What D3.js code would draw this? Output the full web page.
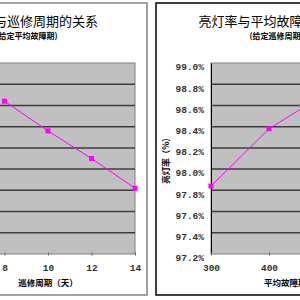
<!DOCTYPE html>
<html><head><meta charset="utf-8">
<script src="https://cdn.jsdelivr.net/npm/d3@7"></script>
<style>body{margin:0;background:#fff}svg{display:block}</style>
</head><body>
<svg id="c" width="300" height="300"></svg>
<script>
// ---- data ----
const cycleDays = [8, 10, 12, 14];
const rateByCycle = [98.64, 98.36, 98.10, 97.82];
const cycleTicks = [6, 8, 10, 12, 14];

const mtbf = [300, 400, 500, 600];
const rateByMtbf = [97.84, 98.38, 98.72, 98.92];
const mtbfTicks = [300, 400, 500, 600];

const rateTicks = [97.2, 97.4, 97.6, 97.8, 98.0, 98.2, 98.4, 98.6, 98.8, 99.0];

(function () {
const charts = [
  {title: "亮灯率与巡修周期的关系", sub: "(给定平均故障期)", xTitle: "巡修周期（天）", yTitle: "亮灯率（%）",
   xs: cycleDays, ys: rateByCycle, xTicks: cycleTicks, xDomain: [6, 14],
   frame: [-94, 147], frameColor: "#8a8a8a", plot: [-39, 135]},
  {title: "亮灯率与平均故障期的关系", sub: "(给定巡修周期)", xTitle: "平均故障期（天）", yTitle: "亮灯率（%）",
   xs: mtbf, ys: rateByMtbf, xTicks: mtbfTicks, xDomain: [300, 600],
   frame: [156, 397], frameColor: "#111", plot: [211, 385]}
];

const svg = d3.select("#c");
const pTop = 63, pBottom = 254;
const y = d3.scaleLinear().domain([97.2, 99.0]).range([pBottom, pTop]);
const mono = "'Liberation Mono','DejaVu Sans Mono',monospace";
const cjk = "'Noto Sans CJK SC','Noto Sans',sans-serif";

charts.forEach(c => {
  const g = svg.append("g");
  const x = d3.scaleLinear().domain(c.xDomain).range(c.plot);
  g.append("rect").attr("x", c.frame[0]).attr("y", 3)
    .attr("width", c.frame[1] - c.frame[0]).attr("height", 292)
    .attr("fill", "#fff").attr("stroke", c.frameColor).attr("stroke-width", 1.6);
  g.append("rect").attr("x", c.plot[0]).attr("y", pTop)
    .attr("width", c.plot[1] - c.plot[0]).attr("height", pBottom - pTop)
    .attr("fill", "#c0c0c0").attr("stroke", "#808080").attr("stroke-width", 1);
  g.selectAll(".grid").data(rateTicks.slice(1, -1)).join("line")
    .attr("x1", c.plot[0]).attr("x2", c.plot[1])
    .attr("y1", d => y(d)).attr("y2", d => y(d))
    .attr("stroke", "#3c3c3c").attr("stroke-width", 1.5);
  const ya = d3.axisLeft(y).tickValues(rateTicks).tickSize(0).tickPadding(7)
    .tickFormat(d => d3.format(".1f")(d) + "%");
  const yg = g.append("g").attr("transform", `translate(${c.plot[0]},0)`).call(ya);
  yg.select(".domain").attr("stroke", "#000");
  yg.selectAll("text").attr("font-family", mono).attr("font-weight", "bold")
    .attr("font-size", 9.5).attr("fill", "#333").attr("dy", "0.72em");
  const xa = d3.axisBottom(x).tickValues(c.xTicks).tickSize(3).tickPadding(9)
    .tickFormat(d3.format("d"));
  const xg = g.append("g").attr("transform", `translate(0,${pBottom - 1.5})`).call(xa);
  xg.select(".domain").remove();
  xg.selectAll(".tick line").attr("stroke", "#666");
  xg.selectAll("text").attr("font-family", mono).attr("font-weight", "bold")
    .attr("font-size", 9.5).attr("fill", "#333");
  const cx = (c.frame[0] + c.frame[1]) / 2;
  g.append("text").attr("x", cx).attr("y", 26).attr("text-anchor", "middle")
    .attr("font-family", cjk).attr("font-size", 13).attr("fill", "#000").text(c.title);
  g.append("text").attr("x", cx).attr("y", 39).attr("text-anchor", "middle")
    .attr("font-family", cjk).attr("font-size", 8).attr("font-weight", "bold")
    .attr("fill", "#000").text(c.sub);
  const pc = (c.plot[0] + c.plot[1]) / 2;
  g.append("text").attr("x", pc).attr("y", 286).attr("text-anchor", "middle")
    .attr("font-family", cjk).attr("font-size", 8.5).attr("font-weight", "bold")
    .attr("fill", "#000").text(c.xTitle);
  g.append("text").attr("transform", `translate(${c.plot[0] - 44},${(pTop + pBottom) / 2}) rotate(-90)`)
    .attr("text-anchor", "middle").attr("dominant-baseline", "middle")
    .attr("font-family", cjk).attr("font-size", 8.5).attr("font-weight", "bold")
    .attr("fill", "#000").text(c.yTitle);
  const pts = c.xs.map((v, i) => [v, c.ys[i]]);
  g.append("path").datum(pts)
    .attr("d", d3.line().x(d => x(d[0])).y(d => y(d[1])))
    .attr("fill", "none").attr("stroke", "#ff00ff").attr("stroke-width", 1);
  g.selectAll(".m").data(pts).join("rect")
    .attr("x", d => x(d[0]) - 2.5).attr("y", d => y(d[1]) - 2.5)
    .attr("width", 5).attr("height", 5).attr("fill", "#ff00ff");
});
})();
</script>
</body></html>
